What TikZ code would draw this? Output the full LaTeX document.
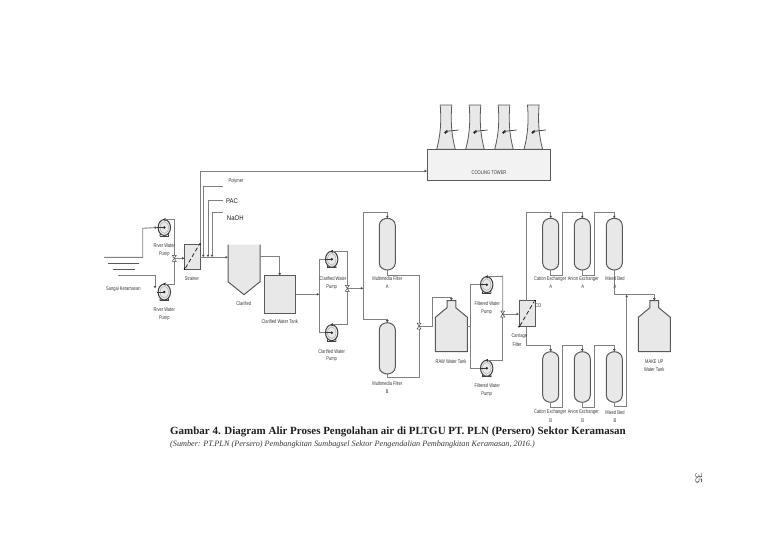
\documentclass[tikz,border=0pt]{standalone}
\usepackage{fontspec}
\setmainfont{Liberation Serif}
\setsansfont{Liberation Sans}
\usetikzlibrary{arrows.meta}
\tikzset{
 pipe/.style={draw=black!50,line width=.9pt},
 feed/.style={pipe,-{Latex[length=2.5pt,width=2.8pt,black!70]}},
 vessel/.style={draw=black!65,line width=1pt,fill=black!9},
 lab/.style={font=\sffamily\fontsize{5.4}{6}\selectfont,text=black!78,xscale=.75,inner sep=0pt},
 chem/.style={font=\sffamily\fontsize{6.8}{7}\selectfont,text=black!90,xscale=.88,inner sep=0pt},
 port/.style={inner sep=0pt,minimum size=0pt},
 pumpbody/.style={draw=black!75,line width=1pt,fill=black!9},
}
% vertical vessel
\newcommand{\Vsl}[4]{% name, x centre, y top, y bottom
 \path[vessel] (#2-8,#3+7) .. controls (#2-8,#3+2) and (#2-3,#3) .. (#2,#3)
  .. controls (#2+3,#3) and (#2+8,#3+2) .. (#2+8,#3+7)
  -- (#2+8,#4-7) .. controls (#2+8,#4-2) and (#2+3,#4) .. (#2,#4)
  .. controls (#2-3,#4) and (#2-8,#4-2) .. (#2-8,#4-7) -- cycle;
 \coordinate (#1t) at (#2,#3); \coordinate (#1b) at (#2,#4);
}
% pump
\newcommand{\Pmp}[3]{% name, x, y
 \path[draw=black!75,line width=.9pt] (#2-4.5,#3+8.5) -- (#2+4.5,#3+8.5);
 \path[draw=black!75,line width=.8pt] (#2-3.5,#3+5) -- (#2-4.5,#3+8.5) (#2+3.5,#3+5) -- (#2+4.5,#3+8.5);
 \path[pumpbody] (#2,#3) ellipse [x radius=6.2,y radius=8];
 \draw[black!35,line width=.4pt] (#2,#3) ellipse [x radius=4.2,y radius=5.8];
 \fill[black!85] (#2,#3) circle (1.4);
 \draw[black!80,line width=.8pt] (#2-7,#3) -- (#2,#3);
 \fill[black!80] (#2-1.5,#3-8) -- (#2+1.2,#3-9.5) -- (#2+1.2,#3-6.5) -- cycle;
 \coordinate (#1l) at (#2-7,#3); \coordinate (#1t) at (#2+1,#3-8);
}
% valve
\newcommand{\Vlv}[3]{%
 \draw[black!70,line width=.5pt,fill=white] (#2-2,#3-3) -- (#2+2,#3-3) -- (#2-2,#3+3) -- (#2+2,#3+3) -- cycle;
}
% diagonal filter box
\newcommand{\Fbx}[5]{% name,x1,y1,x2,y2
 \path[vessel] (#2,#3) rectangle (#4,#5);
 \draw[black!85,line width=.8pt,dash pattern=on 4pt off 2.5pt] (#2+1,#5-1) -- (#4-1,#3+1);
 \fill[black] (#2,#5) circle (.9) (#4,#3) circle (.9);
}
% bottle tank
\newcommand{\Tnk}[2]{% name, x centre
 \path[vessel] (#2-4.4,300.7) -- (#2+4.4,300.7) -- (#2+4.4,307.7) -- (#2+16,317.3) -- (#2+16,351.7) -- (#2-16,351.7) -- (#2-16,317.3) -- (#2-4.4,307.7) -- cycle;
 \coordinate (#1t) at (#2,300.7);
}
% cooling tower cell
\newcommand{\Twr}[1]{%
 \path[vessel,line width=.8pt] (#1-5.8,105) -- (#1+5.8,105) .. controls (#1+4.5,122) and (#1+5.5,135) .. (#1+9.3,149.3) -- (#1-9.3,149.3) .. controls (#1-5.5,135) and (#1-4.5,122) .. (#1-5.8,105) -- cycle;
 \draw[black!80,line width=.7pt,-{Latex[length=2.5pt,width=3pt]}] (#1+12.5,130) -- (#1-1,131.5);
 \fill[black!85] (#1-.5,132.5) circle (1.4);
}
\begin{document}
\begin{tikzpicture}[x=1pt,y=-1pt]
\useasboundingbox (0,0) rectangle (768,543);
\fill[white] (0,0) rectangle (768,543);

% pipes to cooling tower and chemicals
\node[port] (ctin) at (427.3,171) {};
\coordinate (strtop) at (200,244);
\draw[feed] (strtop) -- (200,171) -- (ctin);
\coordinate (polyS) at (222.7,186); \coordinate (pacS) at (222.7,200.7); \coordinate (naS) at (222.7,212.7);
\draw[feed] (polyS) -- (203.3,186) -- (203.3,257.3);
\draw[feed] (pacS) -- (208,200.7) -- (208,257.3);
\draw[feed] (naS) -- (212,212.7) -- (212,257.3);

% river
\coordinate (w1) at (104,257.3);
\draw[black!65,line width=.7pt] (108,263.3) -- (139,263.3) (112.7,269) -- (135,269);

\Pmp{pa}{164.3}{227.5}
\Pmp{pb}{164.3}{292}
\draw[feed] (w1) -- (142.7,257.3) -- (142.7,228.3) -- (pal);
\draw[feed] (118,275.3) -- (155,275.3) -- (155,288.5);
\coordinate (va) at (174.3,258.3);
\draw[pipe] (pat) -- (174.3,219.5) -- (va);
\draw[pipe] (pbt) -- (174.3,284) -- (va);
\Fbx{str}{184.5}{244}{200}{269}
\draw[feed] (va) -- (184.5,258.3);
\Vlv{va}{174.3}{258.3}

% clarifier
\coordinate (clin) at (228,257.3);
\draw[feed] (200,257.3) -- (clin);
\path[vessel,draw=none] (228,244.7) -- (260,244.7) -- (260,281.7) -- (244,294.7) -- (228,281.7) -- cycle;
\draw[black!65,line width=1pt] (228,244.7) -- (228,281.7) -- (244,294.7) -- (260,281.7) -- (260,244.7);
\path[vessel] (264.3,275.7) rectangle (295.7,313.7);
\draw[feed] (260,256.7) -- (279.7,256.7) -- (279.7,275.7);
\coordinate (hdrA) at (319.3,294.3);
\draw[feed] (295.7,294.3) -- (hdrA);

% clarified water pumps
\Pmp{pc}{331.7}{259.3}
\Pmp{pd}{331.7}{332.7}
\draw[pipe] (hdrA) -- (319.3,259.3) -- (pcl);
\draw[pipe] (hdrA) -- (319.3,332.7) -- (pdl);
\coordinate (vb) at (347.3,288.3);
\draw[pipe] (pct) -- (347.3,251.3) -- (vb);
\draw[pipe] (pdt) -- (347.3,324.7) -- (vb);
\draw[feed] (vb) -- (363.3,288.3);
\Vlv{vb}{347.3}{288.3}

% multimedia filters
\Vsl{ma}{387.3}{218.3}{270}
\Vsl{mb}{387.3}{322.7}{374}
\draw[feed] (363.3,288.3) -- (363.3,212.7) -- (387.3,212.7) -- (mat);
\draw[feed] (363.3,288.3) -- (363.3,319.3) -- (387.3,319.3) -- (mbt);
\coordinate (vc) at (419,326);
\draw[pipe] (mab) -- (387.3,275.3) -- (419,275.3) -- (vc);
\draw[pipe] (mbb) -- (387.3,377.7) -- (419,377.7) -- (vc);

% RAW tank
\Tnk{rw}{451.4}
\draw[feed] (vc) -- (432.3,326) -- (432.3,297) -- (451.4,297) -- (rwt);
\Vlv{vc}{419}{326}

% filtered water pumps
\Pmp{pe}{486.7}{284.7}
\Pmp{pf}{486.7}{368.3}
\draw[pipe] (467.4,326) -- (470.7,326);
\draw[pipe] (470.7,326) -- (470.7,284.7) -- (pel);
\draw[pipe] (470.7,326) -- (470.7,368.3) -- (pfl);
\coordinate (vd) at (502.7,314);
\draw[pipe] (pet) -- (502.7,276.3) -- (vd);
\draw[pipe] (pft) -- (502.7,360.3) -- (vd);
\Fbx{cf}{519}{300.7}{535}{326.7}
\draw[feed] (vd) -- (519,314);
\Vlv{vd}{502.7}{314}

% ion exchange trains
\Vsl{ca}{550.7}{218.3}{270}
\Vsl{aa}{582.3}{218.3}{270}
\Vsl{xa}{614.3}{218.3}{270}
\Vsl{cb}{550.7}{351.7}{402.3}
\Vsl{ab}{582.3}{351.7}{402.3}
\Vsl{xb}{614.3}{351.7}{402.3}
\draw[feed] (526.7,300.7) -- (526.7,212.7) -- (550.7,212.7) -- (cat);
\draw[feed] (cab) -- (550.7,275.7) -- (562.7,275.7) -- (562.7,212.7) -- (582.3,212.7) -- (aat);
\draw[feed] (aab) -- (582.3,275.7) -- (594.3,275.7) -- (594.3,212.7) -- (614.3,212.7) -- (xat);
\draw[feed] (526.7,326.7) -- (526.7,345) -- (550.7,345) -- (cbt);
\draw[feed] (cbb) -- (550.7,407) -- (562.7,407) -- (562.7,345) -- (582.3,345) -- (abt);
\draw[feed] (abb) -- (582.3,407) -- (594.3,407) -- (594.3,345) -- (614.3,345) -- (xbt);

% make up tank
\Tnk{mu}{654.3}
\draw[feed] (xab) -- (614.3,294.7) -- (654.3,294.7) -- (mut);
\draw[feed] (xbb) -- (614.3,406) -- (626.7,406) -- (626.7,294.7);

% cooling tower
\foreach \tx in {446,475,504,533.3} {\Twr{\tx}}
\path[vessel,fill=black!5] (427.3,149.3) rectangle (550.7,180);
\node[lab] (ctl) at (489,172.3) {COOLING TOWER};

% labels
\node[lab] (l1) at (236,180.7) {Polymer};
\node[chem] (l2) at (232,200.7) {PAC};
\node[chem] (l3) at (235.3,217.7) {NaOH};
\node[lab] (l4) at (164.3,246) {River Water};
\node[lab] (l5) at (164.3,254.7) {Pump};
\node[lab] (l6) at (164.3,310) {River Water};
\node[lab] (l7) at (164.3,318.3) {Pump};
\node[lab] (l8) at (123.3,289) {Sungai Keramasan};
\node[lab] (l9) at (192,278.7) {Strainer};
\node[lab] (l10) at (243.7,304) {Clarified};
\node[lab] (l11) at (279.7,322) {Clarified Water Tank};
\node[lab] (l12) at (333,278.7) {Clarified Water};
\node[lab] (l13) at (331.7,287) {Pump};
\node[lab] (l14) at (331.7,351.7) {Clarified Water};
\node[lab] (l15) at (331.7,359.5) {Pump};
\node[lab] (l16) at (387.3,279) {Multimedia Filter};
\node[lab] (l17) at (387.3,287) {A};
\node[lab] (l18) at (387.3,384) {Multimedia Filter};
\node[lab] (l19) at (387.3,392) {B};
\node[lab] (l20) at (451,361.7) {RAW Water Tank};
\node[lab] (l21) at (487.3,304) {Filtered Water};
\node[lab] (l22) at (486.7,312.3) {Pump};
\node[lab] (l23) at (487.3,386) {Filtered Water};
\node[lab] (l24) at (486.7,394.3) {Pump};
\node[lab] (l25) at (519.3,336.3) {Carriage};
\node[lab] (l26) at (517,344.3) {Filter};
\node[lab] (l27) at (538.3,305.3) {CO};
\node[lab] (l28) at (550.2,278.7) {Cation Exchanger};
\node[lab] (l29) at (550.7,287) {A};
\node[lab] (l30) at (583.2,278.7) {Anion Exchanger};
\node[lab] (l31) at (582.7,287) {A};
\node[lab] (l32) at (615,278.7) {Mixed Bed};
\node[lab] (l33) at (615,287) {A};
\node[lab] (l34) at (550.2,412.3) {Cation Exchanger};
\node[lab] (l35) at (550.7,420.3) {B};
\node[lab] (l36) at (583.2,412.3) {Anion Exchanger};
\node[lab] (l37) at (582.7,420.3) {B};
\node[lab] (l38) at (615,412.3) {Mixed Bed};
\node[lab] (l39) at (615,420.3) {B};
\node[lab] (l40) at (654.3,361.3) {MAKE UP};
\node[lab] (l41) at (654.3,369.7) {Water Tank};

% caption
\node[anchor=west,inner sep=0pt,font=\bfseries\fontsize{10.97}{12}\selectfont,text=black!88] (cap) at (170,432) {Gambar 4. Diagram Alir Proses Pengolahan air di PLTGU PT. PLN (Persero) Sektor Keramasan};
\node[anchor=west,inner sep=0pt,font=\itshape\fontsize{8.2}{10}\selectfont,text=black!78] (src) at (170,445) {(Sumber: PT.PLN (Persero) Pembangkitan Sumbagsel Sektor Pengendalian Pembangkitan Keramasan, 2016.)};
\node[rotate=-90,inner sep=0pt,font=\fontsize{10}{12}\selectfont,text=black!85] (pg) at (699,478) {35};
\end{tikzpicture}
\end{document}
